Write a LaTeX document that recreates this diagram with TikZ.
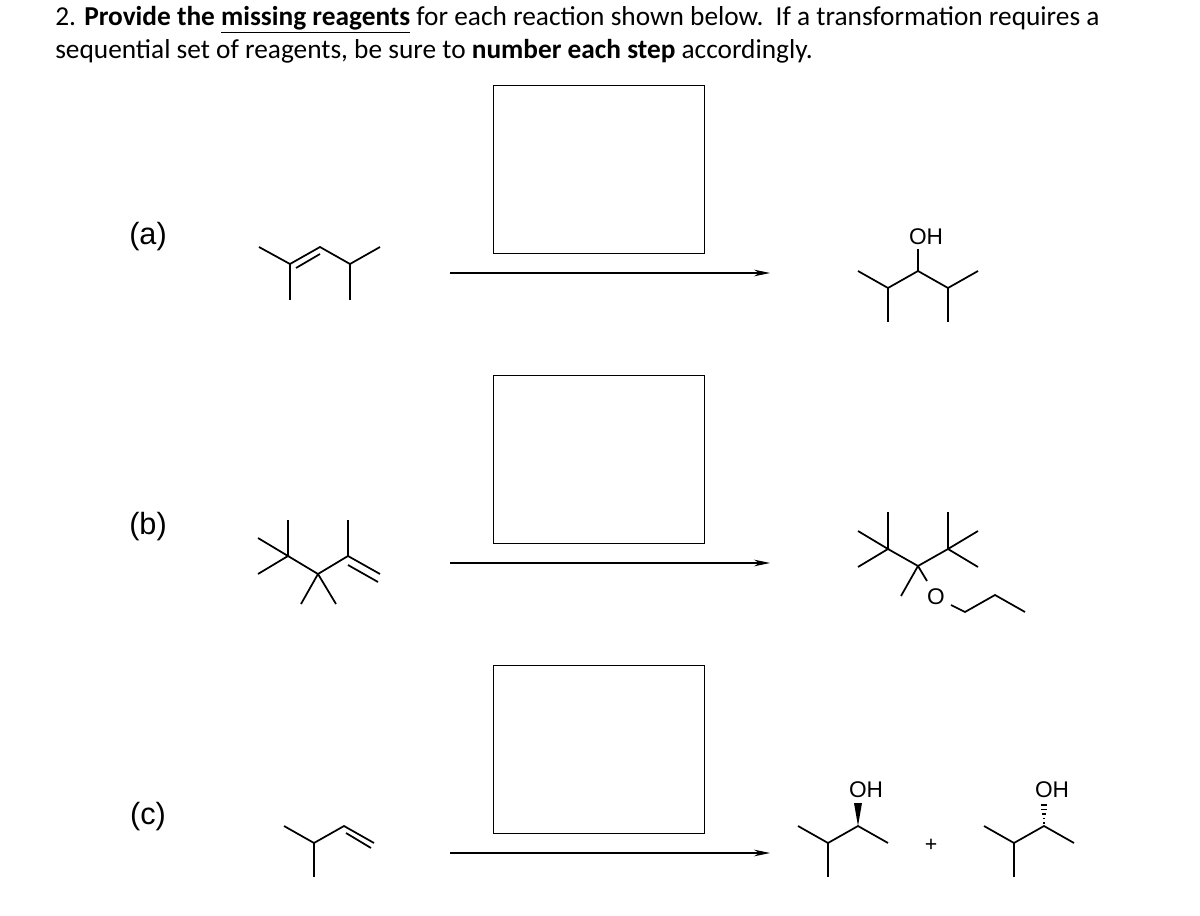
\documentclass[tikz,border=0pt]{standalone}
\usepackage{fontspec}
\setmainfont{Carlito}
\newfontfamily\arial{Liberation Sans}
\usetikzlibrary{arrows.meta}
\begin{document}
\begin{tikzpicture}[x=0.75pt,y=-0.75pt,
  bond/.style={line width=1.3pt},
  boxx/.style={draw,line width=0.8pt},
  rxn/.style={line width=0.8pt,-{Stealth[length=12pt,width=5pt]}},
  lbl/.style={font=\arial\fontsize{23}{27}\selectfont},
  atom/.style={font=\arial\fontsize{17}{20}\selectfont,inner sep=1pt}]
\useasboundingbox (0,0) rectangle (1200,916);
\node[anchor=base west,inner sep=0,font=\fontsize{20.5}{24}\selectfont] (t1) at (55,26) {2. \textbf{Provide the \underline{missing reagents}} for each reaction shown below.\ \ If a transformation requires a};
\node[anchor=base west,inner sep=0,font=\fontsize{20.5}{24}\selectfont] (t2) at (55,59) {sequential set of reagents, be sure to \textbf{number each step} accordingly.};
\node[lbl] (la) at (148,237) {(a)};
\node[lbl] (lb) at (148,527) {(b)};
\node[lbl] (lc) at (148,817) {(c)};
\node[boxx,minimum width=158.25pt,minimum height=126pt,anchor=north west] (ba) at (493,85) {};
\node[boxx,minimum width=158.25pt,minimum height=126pt,anchor=north west] (bb) at (493,375) {};
\node[boxx,minimum width=158.25pt,minimum height=126pt,anchor=north west] (bc) at (493,665) {};
\coordinate (a1) at (450,273); \coordinate (a2) at (770,273);
\coordinate (b1) at (450,563); \coordinate (b2) at (770,563);
\coordinate (c1) at (450,853); \coordinate (c2) at (770,853);
\draw[rxn] (a1) -- (a2);
\draw[rxn] (b1) -- (b2);
\draw[rxn] (c1) -- (c2);
% (a) reactant
\draw[bond] (259,247) -- (290,264) -- (320,247) -- (350,264) -- (380,247);
\draw[bond] (290,264) -- (290,300); \draw[bond] (350,264) -- (350,300);
\draw[bond] (296,268) -- (320,254);
% (a) product
\node[atom] (oha) at (926,237) {OH};
\draw[bond] (918,249) -- (918,271);
\draw[bond] (858,271) -- (888,288) -- (918,271) -- (948,288) -- (978,271);
\draw[bond] (888,288) -- (888,322); \draw[bond] (948,288) -- (948,322);
% (b) reactant
\draw[bond] (258,538) -- (288,556) -- (258,574);
\draw[bond] (288,520) -- (288,556) -- (318,574) -- (348,556) -- (348,520);
\draw[bond] (318,574) -- (301,604); \draw[bond] (318,574) -- (336,604);
\draw[bond] (348,556) -- (380,574); \draw[bond] (348,565) -- (378,582);
% (b) product
\draw[bond] (858,531) -- (888,549) -- (858,567);
\draw[bond] (888,512) -- (888,549) -- (918,566) -- (948,549) -- (948,512);
\draw[bond] (948,549) -- (978,531); \draw[bond] (948,549) -- (978,567);
\draw[bond] (918,566) -- (901,596);
\node[atom] (ob) at (936,597) {O};
\draw[bond] (918,566) -- (927,581);
\draw[bond] (951,605) -- (965,612) -- (995,595) -- (1025,612);
% (c) reactant
\draw[bond] (284,826) -- (314,843) -- (344,826) -- (374,843);
\draw[bond] (314,843) -- (314,877);
\draw[bond] (346,833) -- (371,848);
% (c) products
\draw[bond] (798,826) -- (828,843) -- (858,826) -- (888,843);
\draw[bond] (828,843) -- (828,877);
\fill (858,826) -- (854,803) -- (862,803) -- cycle;
\node[atom] (ohc1) at (866,790) {OH};
\node[font=\arial\fontsize{16}{19}\selectfont] (plus) at (931,845) {+};
\draw[bond] (984,826) -- (1014,843) -- (1044,826) -- (1074,843);
\draw[bond] (1014,843) -- (1014,877);
\foreach \i in {0,...,4} \draw[line width=0.9pt] ({1044-0.6-0.7*\i},{823-4.5*\i}) -- ({1044+0.6+0.7*\i},{823-4.5*\i});
\node[atom] (ohc2) at (1052,790) {OH};
\end{tikzpicture}
\end{document}
